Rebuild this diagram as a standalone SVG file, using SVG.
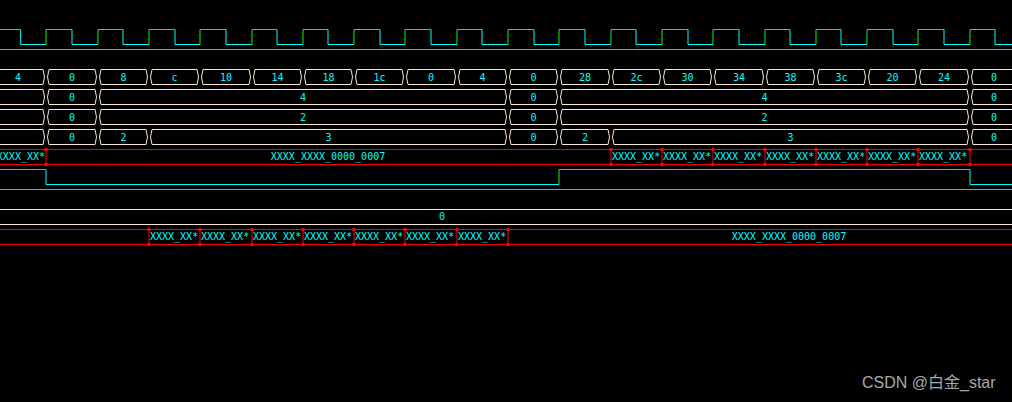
<svg xmlns="http://www.w3.org/2000/svg" width="1012" height="402" viewBox="0 0 1012 402">
<style>
.bus{fill:none;stroke:#fbe8d0;stroke-width:1}
.t{font-family:"DejaVu Sans Mono",monospace;font-size:10px;fill:#00ffff;text-anchor:middle}
.ts{text-anchor:start}.te{text-anchor:end}
.red{stroke:#ff0000;stroke-width:1;fill:none}
.g{stroke:#00ff00;stroke-width:1;fill:none}
.c{stroke:#00ffff;stroke-width:1;fill:none}
</style>
<defs>
<g id="tick"><line x1="0" y1="0" x2="0" y2="15" class="red"/><rect x="-1.5" y="-1.5" width="3" height="3" fill="#ff0000"/><rect x="-1.5" y="13.5" width="3" height="3" fill="#ff0000"/></g>
</defs>
<rect width="1012" height="402" fill="#000"/>
<g id="clk">
<path class="g" d="M0,29.5H20.65M46,44.5V29.5H72M98,44.5V29.5H123M149,44.5V29.5H175M200,44.5V29.5H226M252,44.5V29.5H277M303,44.5V29.5H328M354,44.5V29.5H380M405,44.5V29.5H431M457,44.5V29.5H482M508,44.5V29.5H534M559,44.5V29.5H585M611,44.5V29.5H636M662,44.5V29.5H688M713,44.5V29.5H739M765,44.5V29.5H790M816,44.5V29.5H841M867,44.5V29.5H893M918,44.5V29.5H944M970,44.5V29.5H995"/>
<path class="c" d="M20.65,29.5V44.5H46M72,29.5V44.5H98M123,29.5V44.5H149M175,29.5V44.5H200M226,29.5V44.5H252M277,29.5V44.5H303M328,29.5V44.5H354M380,29.5V44.5H405M431,29.5V44.5H457M482,29.5V44.5H508M534,29.5V44.5H559M585,29.5V44.5H611M636,29.5V44.5H662M688,29.5V44.5H713M739,29.5V44.5H765M790,29.5V44.5H816M841,29.5V44.5H867M893,29.5V44.5H918M944,29.5V44.5H970M995,29.5V44.5H1012"/>
<line class="g" x1="0" y1="49.5" x2="1012" y2="49.5"/>
</g>
<g id="row1" transform="translate(0,69.5)">
<g class="bus">
<polygon points="-8.5,7.5 -7,0 43,0 44.5,7.5 43,15 -7,15"/>
<polygon points="47.5,7.5 49,0 95,0 96.5,7.5 95,15 49,15"/>
<polygon points="99.5,7.5 101,0 146,0 147.5,7.5 146,15 101,15"/>
<polygon points="150.5,7.5 152,0 197,0 198.5,7.5 197,15 152,15"/>
<polygon points="201.5,7.5 203,0 249,0 250.5,7.5 249,15 203,15"/>
<polygon points="253.5,7.5 255,0 300,0 301.5,7.5 300,15 255,15"/>
<polygon points="304.5,7.5 306,0 351,0 352.5,7.5 351,15 306,15"/>
<polygon points="355.5,7.5 357,0 402,0 403.5,7.5 402,15 357,15"/>
<polygon points="406.5,7.5 408,0 454,0 455.5,7.5 454,15 408,15"/>
<polygon points="458.5,7.5 460,0 505,0 506.5,7.5 505,15 460,15"/>
<polygon points="509.5,7.5 511,0 556,0 557.5,7.5 556,15 511,15"/>
<polygon points="560.5,7.5 562,0 608,0 609.5,7.5 608,15 562,15"/>
<polygon points="612.5,7.5 614,0 659,0 660.5,7.5 659,15 614,15"/>
<polygon points="663.5,7.5 665,0 710,0 711.5,7.5 710,15 665,15"/>
<polygon points="714.5,7.5 716,0 762,0 763.5,7.5 762,15 716,15"/>
<polygon points="766.5,7.5 768,0 813,0 814.5,7.5 813,15 768,15"/>
<polygon points="817.5,7.5 819,0 864,0 865.5,7.5 864,15 819,15"/>
<polygon points="868.5,7.5 870,0 915,0 916.5,7.5 915,15 870,15"/>
<polygon points="919.5,7.5 921,0 967,0 968.5,7.5 967,15 921,15"/>
<polygon points="971.5,7.5 973,0 1019,0 1020.5,7.5 1019,15 973,15"/>
</g>
<text class="t" x="18" y="11">4</text><text class="t" x="72" y="11">0</text><text class="t" x="123.5" y="11">8</text><text class="t" x="174.5" y="11">c</text><text class="t" x="226" y="11">10</text><text class="t" x="277.5" y="11">14</text><text class="t" x="328.5" y="11">18</text><text class="t" x="379.5" y="11">1c</text><text class="t" x="431" y="11">0</text><text class="t" x="482.5" y="11">4</text><text class="t" x="533.5" y="11">0</text><text class="t" x="585" y="11">28</text><text class="t" x="636.5" y="11">2c</text><text class="t" x="687.5" y="11">30</text><text class="t" x="739" y="11">34</text><text class="t" x="790.5" y="11">38</text><text class="t" x="841.5" y="11">3c</text><text class="t" x="892.5" y="11">20</text><text class="t" x="944" y="11">24</text><text class="t" x="994" y="11">0</text>
</g>
<g id="row2" transform="translate(0,89.5)">
<g class="bus">
<polygon points="-8.5,7.5 -7,0 43,0 44.5,7.5 43,15 -7,15"/>
<polygon points="47.5,7.5 49,0 95,0 96.5,7.5 95,15 49,15"/>
<polygon points="99.5,7.5 101,0 505,0 506.5,7.5 505,15 101,15"/>
<polygon points="509.5,7.5 511,0 556,0 557.5,7.5 556,15 511,15"/>
<polygon points="560.5,7.5 562,0 967,0 968.5,7.5 967,15 562,15"/>
<polygon points="971.5,7.5 973,0 1019,0 1020.5,7.5 1019,15 973,15"/>
</g>
<text class="t" x="72" y="11">0</text><text class="t" x="303" y="11">4</text><text class="t" x="533.5" y="11">0</text><text class="t" x="764.5" y="11">4</text><text class="t" x="994" y="11">0</text>
</g>
<g id="row3" transform="translate(0,109.5)">
<g class="bus">
<polygon points="-8.5,7.5 -7,0 43,0 44.5,7.5 43,15 -7,15"/>
<polygon points="47.5,7.5 49,0 95,0 96.5,7.5 95,15 49,15"/>
<polygon points="99.5,7.5 101,0 505,0 506.5,7.5 505,15 101,15"/>
<polygon points="509.5,7.5 511,0 556,0 557.5,7.5 556,15 511,15"/>
<polygon points="560.5,7.5 562,0 967,0 968.5,7.5 967,15 562,15"/>
<polygon points="971.5,7.5 973,0 1019,0 1020.5,7.5 1019,15 973,15"/>
</g>
<text class="t" x="72" y="11">0</text><text class="t" x="303" y="11">2</text><text class="t" x="533.5" y="11">0</text><text class="t" x="764.5" y="11">2</text><text class="t" x="994" y="11">0</text>
</g>
<g id="row4" transform="translate(0,129.5)">
<g class="bus">
<polygon points="-8.5,7.5 -7,0 43,0 44.5,7.5 43,15 -7,15"/>
<polygon points="47.5,7.5 49,0 95,0 96.5,7.5 95,15 49,15"/>
<polygon points="99.5,7.5 101,0 146,0 147.5,7.5 146,15 101,15"/>
<polygon points="150.5,7.5 152,0 505,0 506.5,7.5 505,15 152,15"/>
<polygon points="509.5,7.5 511,0 556,0 557.5,7.5 556,15 511,15"/>
<polygon points="560.5,7.5 562,0 608,0 609.5,7.5 608,15 562,15"/>
<polygon points="612.5,7.5 614,0 967,0 968.5,7.5 967,15 614,15"/>
<polygon points="971.5,7.5 973,0 1019,0 1020.5,7.5 1019,15 973,15"/>
</g>
<text class="t" x="72" y="11">0</text><text class="t" x="123.5" y="11">2</text><text class="t" x="328.5" y="11">3</text><text class="t" x="533.5" y="11">0</text><text class="t" x="585" y="11">2</text><text class="t" x="790.5" y="11">3</text><text class="t" x="994" y="11">0</text>
</g>
<g id="row5" transform="translate(0,149.5)">
<line class="red" x1="0" y1="0" x2="1012" y2="0"/><line class="red" x1="0" y1="15" x2="1012" y2="15"/>
<use href="#tick" x="46"/><use href="#tick" x="611"/><use href="#tick" x="662"/><use href="#tick" x="713"/><use href="#tick" x="765"/><use href="#tick" x="816"/><use href="#tick" x="867"/><use href="#tick" x="918"/><use href="#tick" x="970"/>
<text class="t te" x="45" y="10.5">XXXX_XX*</text>
<text class="t" x="328" y="10.5">XXXX_XXXX_0000_0007</text>
<text class="t ts" x="612" y="10.5">XXXX_XX*</text><text class="t ts" x="663" y="10.5">XXXX_XX*</text><text class="t ts" x="714" y="10.5">XXXX_XX*</text><text class="t ts" x="766" y="10.5">XXXX_XX*</text><text class="t ts" x="817" y="10.5">XXXX_XX*</text><text class="t ts" x="868" y="10.5">XXXX_XX*</text><text class="t ts" x="919" y="10.5">XXXX_XX*</text>
</g>
<g id="row6">
<path class="g" d="M0,169.5H46M559,184.5V169.5H970"/>
<path class="c" d="M46,169.5V184.5H559M970,169.5V184.5H1012"/>
<line class="g" x1="0" y1="189.5" x2="1012" y2="189.5"/>
</g>
<g id="row7">
<line class="bus" x1="0" y1="209.5" x2="1012" y2="209.5"/><line class="bus" x1="0" y1="224.5" x2="1012" y2="224.5"/>
<text class="t" x="442" y="220">0</text>
</g>
<g id="row8" transform="translate(0,229.5)">
<line class="red" x1="0" y1="0" x2="1012" y2="0"/><line class="red" x1="0" y1="15" x2="1012" y2="15"/>
<use href="#tick" x="149"/><use href="#tick" x="200"/><use href="#tick" x="252"/><use href="#tick" x="303"/><use href="#tick" x="354"/><use href="#tick" x="405"/><use href="#tick" x="457"/><use href="#tick" x="508"/>
<text class="t ts" x="150" y="10.5">XXXX_XX*</text><text class="t ts" x="201" y="10.5">XXXX_XX*</text><text class="t ts" x="253" y="10.5">XXXX_XX*</text><text class="t ts" x="304" y="10.5">XXXX_XX*</text><text class="t ts" x="355" y="10.5">XXXX_XX*</text><text class="t ts" x="406" y="10.5">XXXX_XX*</text><text class="t ts" x="458" y="10.5">XXXX_XX*</text>
<text class="t" x="789" y="10.5">XXXX_XXXX_0000_0007</text>
</g>
<text x="862" y="388" font-family="'Liberation Sans','Noto Sans CJK SC',sans-serif" font-size="16" fill="#a8a8a8">CSDN @白金_star</text>
</svg>
